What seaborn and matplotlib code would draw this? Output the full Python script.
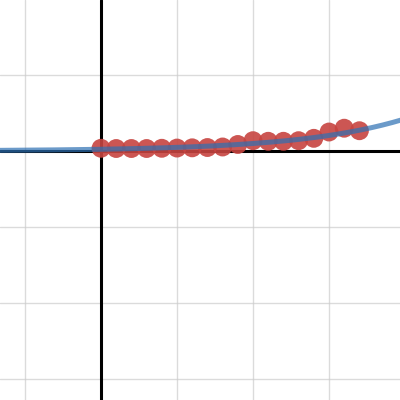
import numpy as np
import pandas as pd
import seaborn as sns
import matplotlib
matplotlib.use("Agg")
import matplotlib.pyplot as plt

# data points (grid unit = 1)
x_vals = [0.0, 0.2, 0.4, 0.6, 0.8, 1.0, 1.2, 1.4, 1.6, 1.8,
          2.0, 2.2, 2.4, 2.6, 2.8, 3.0, 3.2, 3.4]
y_vals = [0.036, 0.033, 0.033, 0.033, 0.036, 0.039, 0.042, 0.046, 0.053, 0.086,
          0.136, 0.128, 0.128, 0.136, 0.167, 0.25, 0.30, 0.267]

df = pd.DataFrame({'x': x_vals, 'y': y_vals})

# exponential fit y = a * exp(b x) from the points
b, ln_a = np.polyfit(df['x'], np.log(df['y']), 1)
fit_x = np.linspace(-1.4, 4.0, 200)
fit_df = pd.DataFrame({'x': fit_x, 'y': np.exp(ln_a) * np.exp(b * fit_x)})

sns.set_style("white")
fig = plt.figure(figsize=(4, 4), dpi=100)
ax = fig.add_axes([0, 0, 1, 1])

ax.set_xlim(-1.329, 3.934)
ax.set_ylim(-3.276, 1.987)
ax.set_xticks(range(-1, 4))
ax.set_yticks(range(-3, 2))
ax.grid(True, color='#cccccc', linewidth=1.0, alpha=0.7)
ax.tick_params(length=0, labelbottom=False, labelleft=False)
for s in ax.spines.values():
    s.set_visible(False)
ax.axhline(0, color='black', linewidth=2.2, zorder=2)
ax.axvline(0, color='black', linewidth=2.2, zorder=2)

sns.scatterplot(data=df, x='x', y='y', ax=ax, color='#c74440', s=185,
                alpha=0.9, edgecolor='none', zorder=3)
sns.lineplot(data=fit_df, x='x', y='y', ax=ax, color='#2d70b3', linewidth=3.6,
             alpha=0.7, zorder=4)
ax.set_xlabel('')
ax.set_ylabel('')

fig.savefig('out.png', dpi=100)
